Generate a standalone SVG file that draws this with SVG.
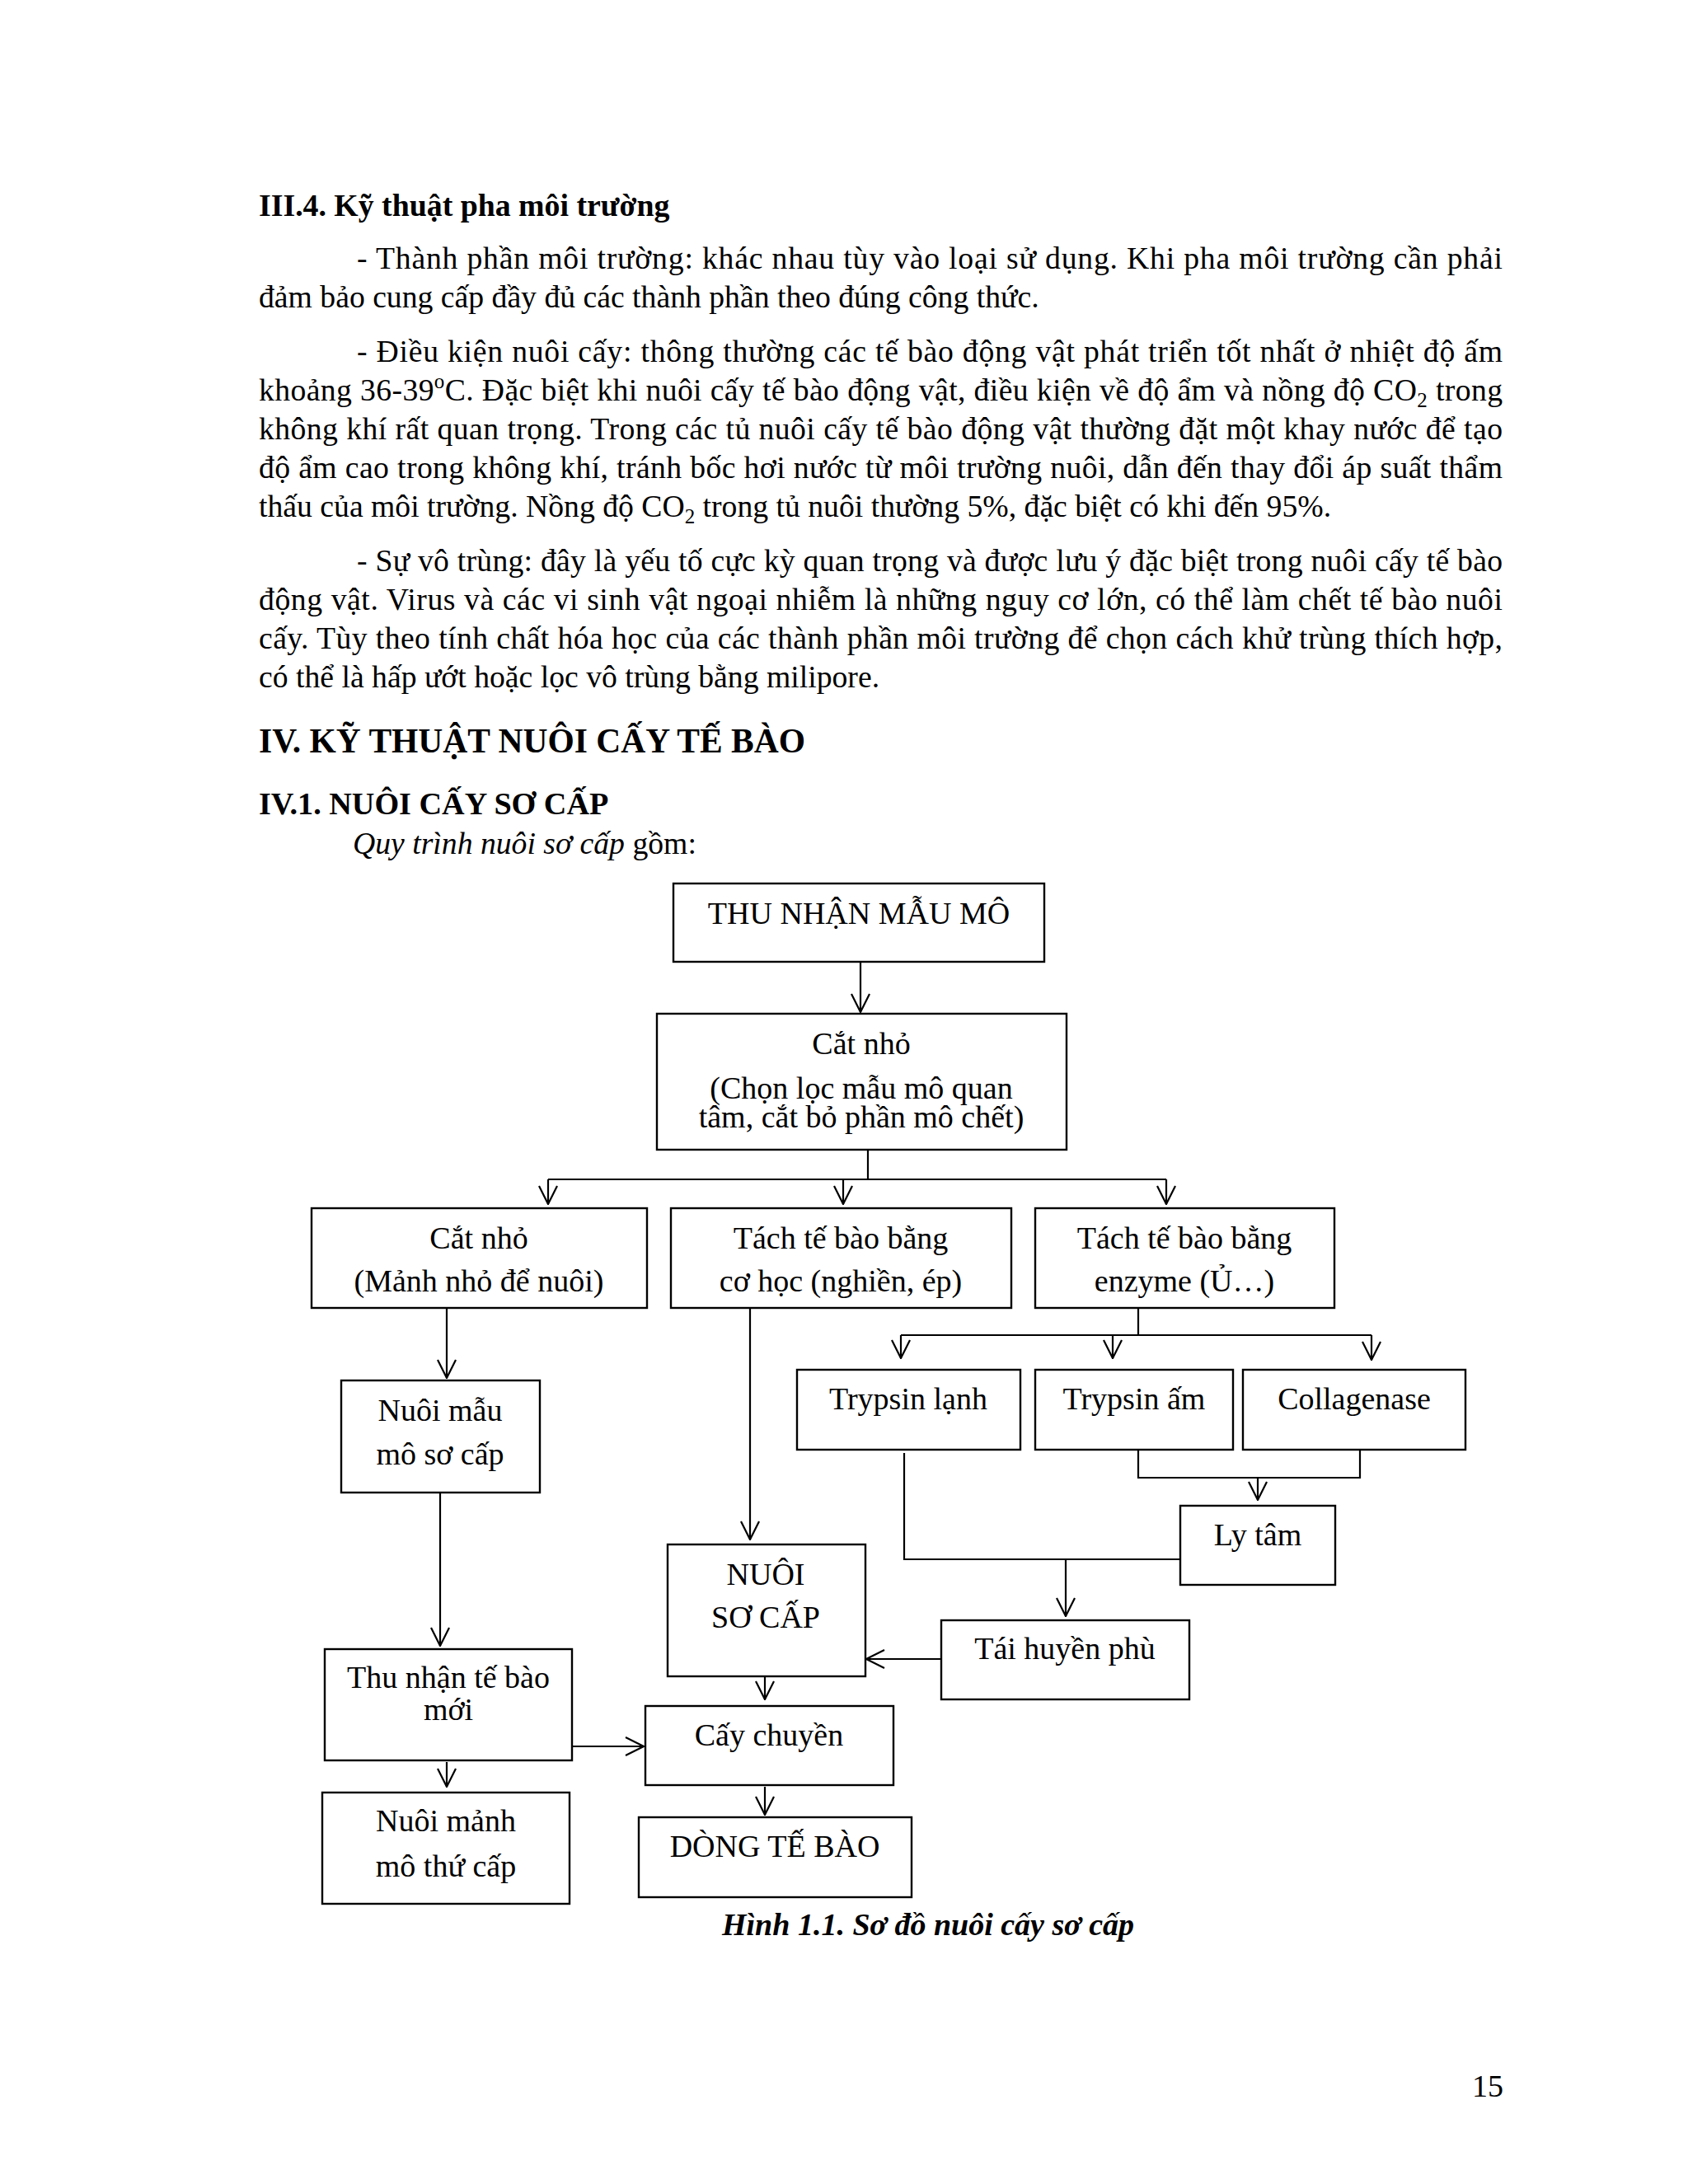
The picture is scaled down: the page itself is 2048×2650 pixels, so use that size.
<svg xmlns="http://www.w3.org/2000/svg" width="2048" height="2650" viewBox="0 0 2048 2650">
<style>
text{font-family:"Liberation Serif","Times New Roman",serif;fill:#000}
.p{font-size:37.7px}
.h{font-size:37.8px;font-weight:bold}
.h1{font-size:41.5px;font-weight:bold}
.h2{font-size:38.2px;font-weight:bold}
.n{font-size:38px;text-anchor:middle}
.box{fill:none;stroke:#000;stroke-width:2.4}
.c line,.c polyline{fill:none;stroke:#000;stroke-width:2.2}
</style>
<defs>
<marker id="ar" markerUnits="userSpaceOnUse" viewBox="0 0 24 24" refX="23" refY="12" markerWidth="24" markerHeight="24" orient="auto">
<path d="M1,1 L23,12 L1,23" fill="none" stroke="#000" stroke-width="2.2"/>
</marker>
</defs>
<rect width="2048" height="2650" fill="#fff"/>

<g id="body-text">
<text class="h" x="314" y="262">III.4. Kỹ thuật pha môi trường</text>
<text class="p" x="433" y="326" textLength="1390" lengthAdjust="spacing">- Thành phần môi trường: khác nhau tùy vào loại sử dụng. Khi pha môi trường cần phải</text>
<text class="p" x="314" y="373">đảm bảo cung cấp đầy đủ các thành phần theo đúng công thức.</text>
<text class="p" x="433" y="439" textLength="1390" lengthAdjust="spacing">- Điều kiện nuôi cấy: thông thường các tế bào động vật phát triển tốt nhất ở nhiệt độ ấm</text>
<text class="p" x="314" y="486" textLength="1509" lengthAdjust="spacing">khoảng 36-39<tspan dy="-15" font-size="25">o</tspan><tspan dy="15">C. Đặc biệt khi nuôi cấy tế bào động vật, điều kiện về độ ẩm và nồng độ CO</tspan><tspan dy="8" font-size="25">2</tspan><tspan dy="-8"> trong</tspan></text>
<text class="p" x="314" y="533" textLength="1509" lengthAdjust="spacing">không khí rất quan trọng. Trong các tủ nuôi cấy tế bào động vật thường đặt một khay nước để tạo</text>
<text class="p" x="314" y="580" textLength="1509" lengthAdjust="spacing">độ ẩm cao trong không khí, tránh bốc hơi nước từ môi trường nuôi, dẫn đến thay đổi áp suất thẩm</text>
<text class="p" x="314" y="627">thấu của môi trường. Nồng độ CO<tspan dy="8" font-size="25">2</tspan><tspan dy="-8"> trong tủ nuôi thường 5%, đặc biệt có khi đến 95%.</tspan></text>
<text class="p" x="433" y="693" textLength="1390" lengthAdjust="spacing">- Sự vô trùng: đây là yếu tố cực kỳ quan trọng và được lưu ý đặc biệt trong nuôi cấy tế bào</text>
<text class="p" x="314" y="740" textLength="1509" lengthAdjust="spacing">động vật. Virus và các vi sinh vật ngoại nhiễm là những nguy cơ lớn, có thể làm chết tế bào nuôi</text>
<text class="p" x="314" y="787" textLength="1509" lengthAdjust="spacing">cấy. Tùy theo tính chất hóa học của các thành phần môi trường để chọn cách khử trùng thích hợp,</text>
<text class="p" x="314" y="834">có thể là hấp ướt hoặc lọc vô trùng bằng milipore.</text>
<text class="h1" x="314" y="913">IV. KỸ THUẬT NUÔI CẤY TẾ BÀO</text>
<text class="h2" x="314" y="988">IV.1. NUÔI CẤY SƠ CẤP</text>
<text class="p" x="428" y="1036"><tspan font-style="italic">Quy trình nuôi sơ cấp</tspan> gồm:</text>
</g>

<g class="c" id="connectors">
<line x1="1044" y1="1167" x2="1044" y2="1228" marker-end="url(#ar)"/>
<line x1="1053" y1="1395" x2="1053" y2="1431"/>
<line x1="665" y1="1431" x2="1415" y2="1431"/>
<line x1="665" y1="1431" x2="665" y2="1461" marker-end="url(#ar)"/>
<line x1="1023" y1="1431" x2="1023" y2="1461" marker-end="url(#ar)"/>
<line x1="1415" y1="1431" x2="1415" y2="1461" marker-end="url(#ar)"/>
<line x1="1381" y1="1587" x2="1381" y2="1620"/>
<line x1="1093" y1="1620" x2="1664" y2="1620"/>
<line x1="1093" y1="1620" x2="1093" y2="1648" marker-end="url(#ar)"/>
<line x1="1350" y1="1620" x2="1350" y2="1648" marker-end="url(#ar)"/>
<line x1="1664" y1="1620" x2="1664" y2="1650" marker-end="url(#ar)"/>
<line x1="542" y1="1587" x2="542" y2="1672" marker-end="url(#ar)"/>
<line x1="910" y1="1587" x2="910" y2="1868" marker-end="url(#ar)"/>
<polyline points="1381,1759 1381,1793 1650,1793 1650,1759"/>
<line x1="1526" y1="1793" x2="1526" y2="1820" marker-end="url(#ar)"/>
<polyline points="1097,1763 1097,1892 1432,1892"/>
<line x1="1293" y1="1892" x2="1293" y2="1961" marker-end="url(#ar)"/>
<line x1="1142" y1="2013" x2="1051" y2="2013" marker-end="url(#ar)"/>
<line x1="534" y1="1811" x2="534" y2="1997" marker-end="url(#ar)"/>
<line x1="928" y1="2034" x2="928" y2="2062" marker-end="url(#ar)"/>
<line x1="694" y1="2119" x2="781" y2="2119" marker-end="url(#ar)"/>
<line x1="542" y1="2138" x2="542" y2="2168" marker-end="url(#ar)"/>
<line x1="928" y1="2168" x2="928" y2="2202" marker-end="url(#ar)"/>
</g>

<g id="n-thunhan">
<rect class="box" x="817" y="1072" width="450" height="95"/>
<text class="n" x="1042" y="1121">THU NHẬN MẪU MÔ</text>
</g>
<g id="n-catnho1">
<rect class="box" x="797" y="1230" width="497" height="165"/>
<text class="n" x="1045" y="1279">Cắt nhỏ</text>
<text class="n" x="1045" y="1333">(Chọn lọc mẫu mô quan</text>
<text class="n" x="1045" y="1368">tâm, cắt bỏ phần mô chết)</text>
</g>
<g id="n-catnho2">
<rect class="box" x="378" y="1466" width="407" height="121"/>
<text class="n" x="581" y="1515">Cắt nhỏ</text>
<text class="n" x="581" y="1567">(Mảnh nhỏ để nuôi)</text>
</g>
<g id="n-cohoc">
<rect class="box" x="814" y="1466" width="413" height="121"/>
<text class="n" x="1020" y="1515">Tách tế bào bằng</text>
<text class="n" x="1020" y="1567">cơ học (nghiền, ép)</text>
</g>
<g id="n-enzyme">
<rect class="box" x="1256" y="1466" width="363" height="121"/>
<text class="n" x="1437" y="1515">Tách tế bào bằng</text>
<text class="n" x="1437" y="1567">enzyme (Ủ…)</text>
</g>
<g id="n-trypsinlanh">
<rect class="box" x="967" y="1662" width="271" height="97"/>
<text class="n" x="1102" y="1710">Trypsin lạnh</text>
</g>
<g id="n-trypsinam">
<rect class="box" x="1256" y="1662" width="240" height="97"/>
<text class="n" x="1376" y="1710">Trypsin ấm</text>
</g>
<g id="n-collagenase">
<rect class="box" x="1508" y="1662" width="270" height="97"/>
<text class="n" x="1643" y="1710">Collagenase</text>
</g>
<g id="n-nuoimau">
<rect class="box" x="414" y="1675" width="241" height="136"/>
<text class="n" x="534" y="1724">Nuôi mẫu</text>
<text class="n" x="534" y="1777">mô sơ cấp</text>
</g>
<g id="n-lytam">
<rect class="box" x="1432" y="1827" width="188" height="96"/>
<text class="n" x="1526" y="1875">Ly tâm</text>
</g>
<g id="n-nuoisocap">
<rect class="box" x="810" y="1874" width="240" height="160"/>
<text class="n" x="929" y="1923">NUÔI</text>
<text class="n" x="929" y="1975">SƠ CẤP</text>
</g>
<g id="n-taihuyenphu">
<rect class="box" x="1142" y="1966" width="301" height="96"/>
<text class="n" x="1292" y="2013">Tái huyền phù</text>
</g>
<g id="n-thunhantb">
<rect class="box" x="394" y="2001" width="300" height="135"/>
<text class="n" x="544" y="2048">Thu nhận tế bào</text>
<text class="n" x="544" y="2087">mới</text>
</g>
<g id="n-caychuyen">
<rect class="box" x="783" y="2070" width="301" height="96"/>
<text class="n" x="933" y="2118">Cấy chuyền</text>
</g>
<g id="n-nuoimanh">
<rect class="box" x="391" y="2175" width="300" height="135"/>
<text class="n" x="541" y="2222">Nuôi mảnh</text>
<text class="n" x="541" y="2277">mô thứ cấp</text>
</g>
<g id="n-dongtebao">
<rect class="box" x="775" y="2205" width="331" height="97"/>
<text class="n" x="940" y="2253">DÒNG TẾ BÀO</text>
</g>

<text x="876" y="2348" font-size="38" font-weight="bold" font-style="italic">Hình 1.1. Sơ đồ nuôi cấy sơ cấp</text>
<text x="1786" y="2544" font-size="38">15</text>
</svg>
